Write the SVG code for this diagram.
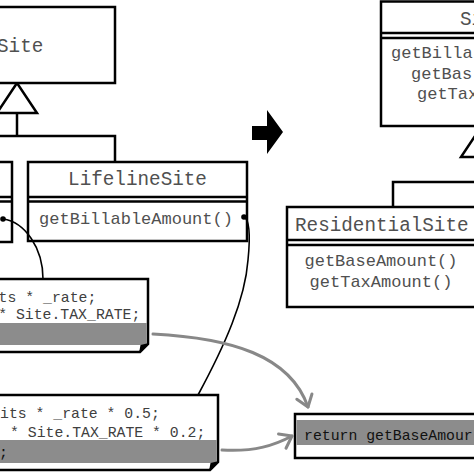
<svg xmlns="http://www.w3.org/2000/svg" width="474" height="474" viewBox="0 0 474 474">
<style>
.box{fill:#fff;stroke:#000;stroke-width:2.5}
.ln{fill:none;stroke:#000;stroke-width:2.5}
.tri{fill:#fff;stroke:#000;stroke-width:2.5;stroke-linejoin:miter}
.name{font-family:"Liberation Mono",monospace;font-size:19.3px;fill:#505050}
.meth{font-family:"Liberation Mono",monospace;font-size:17px;fill:#505050}
.code{font-family:"Liberation Mono",monospace;font-size:14.8px;fill:#404040}
.band{fill:#8c8c8c}
.call{fill:none;stroke:#000;stroke-width:1.6}
.flow{fill:none;stroke:#888;stroke-width:3;stroke-linecap:round}
.ear{fill:#000}
</style>
<defs>
<marker id="open" markerUnits="userSpaceOnUse" markerWidth="20" markerHeight="20" refX="14" refY="10" orient="auto">
<path d="M3,2 L14,10 L3,18" fill="none" stroke="#888" stroke-width="3" stroke-linecap="round" stroke-linejoin="round"/>
</marker>
</defs>

<g id="hier-left">
<polygon class="tri" points="17,83 -3,113 37,113"/>
<polyline class="ln" points="17,113 17,136"/>
<polyline class="ln" points="-10,136 115,136 115,162"/>
</g>

<g id="site-left">
<rect class="box" x="-20" y="7" width="135" height="76"/>
<text class="name" x="-3" y="52">Site</text>
</g>

<g id="left-partial">
<rect class="box" x="-20" y="162" width="32" height="80"/>
<line class="ln" x1="-20" y1="197" x2="12" y2="197"/>
<line class="ln" x1="-20" y1="201.5" x2="12" y2="201.5"/>
</g>

<g id="lifeline">
<rect class="box" x="28" y="162" width="219" height="79"/>
<line class="ln" x1="28" y1="197" x2="247" y2="197"/>
<line class="ln" x1="28" y1="201.5" x2="247" y2="201.5"/>
<text class="name" x="137.5" y="185" text-anchor="middle">LifelineSite</text>
<text class="meth" x="136" y="224" text-anchor="middle">getBillableAmount()</text>
</g>

<g id="code1">
<path class="box" d="M-10,279 H148 V344 L140,352 H-10 Z"/>
<rect class="band" x="-10" y="323" width="156.8" height="22"/>
<polygon class="ear" points="139,353 149,343 140.5,345"/>
<text class="code" x="-1.4" y="302">ts * _rate;</text>
<text class="code" x="-1.8" y="319">* Site.TAX_RATE;</text>
</g>

<g id="code2">
<path class="box" d="M-10,395 H218 V462 L210,470 H-10 Z"/>
<rect class="band" x="-10" y="440" width="226.8" height="23"/>
<polygon class="ear" points="209,471 219,461 210.5,463"/>
<text class="code" x="0" y="418">its * _rate * 0.5;</text>
<text class="code" x="10" y="437">* Site.TAX_RATE * 0.2;</text>
<text class="code" x="-1" y="457" style="fill:#111">;</text>
</g>

<polygon id="refactor-arrow" points="252,126 267,126 267,110 283,132 267,154 267,140 252,140" fill="#000"/>

<g id="hier-right">
<polygon class="tri" points="481,127 461,157 501,157"/>
<polyline class="ln" points="481,157 481,182"/>
<polyline class="ln" points="490,182 393,182 393,207"/>
</g>

<g id="site-right">
<rect class="box" x="381" y="1.5" width="220" height="124.5"/>
<line class="ln" x1="381" y1="33" x2="601" y2="33"/>
<line class="ln" x1="381" y1="38" x2="601" y2="38"/>
<text class="name" x="460" y="25">Si</text>
<text class="meth" x="391" y="58">getBilla</text>
<text class="meth" x="411" y="78.5">getBas</text>
<text class="meth" x="417" y="99">getTax</text>
</g>

<g id="residential">
<rect class="box" x="287" y="207" width="190" height="100"/>
<line class="ln" x1="287" y1="240" x2="477" y2="240"/>
<line class="ln" x1="287" y1="245" x2="477" y2="245"/>
<text class="name" x="295" y="231">ResidentialSite</text>
<text class="meth" x="381" y="266" text-anchor="middle">getBaseAmount()</text>
<text class="meth" x="381" y="287" text-anchor="middle">getTaxAmount()</text>
</g>

<g id="template">
<rect class="box" x="295" y="414" width="190" height="44"/>
<rect class="band" x="296.5" y="420" width="190" height="25"/>
<text class="code" x="304" y="440" style="fill:#111">return getBaseAmour</text>
</g>

<g id="connectors">
<circle cx="3" cy="219" r="2.8" fill="#000"/>
<path class="call" d="M3,219 C25,222 43,248 43,279"/>
<circle cx="244" cy="217" r="2.8" fill="#000"/>
<path class="call" d="M244,217 C250,220 250,240 248,260 C245,300 225,345 198,395"/>
<path class="flow" d="M153,334 C230,338 290,355 308,407" marker-end="url(#open)"/>
<path class="flow" d="M222,450 C255,452 275,445 292,436" marker-end="url(#open)"/>
</g>
</svg>
